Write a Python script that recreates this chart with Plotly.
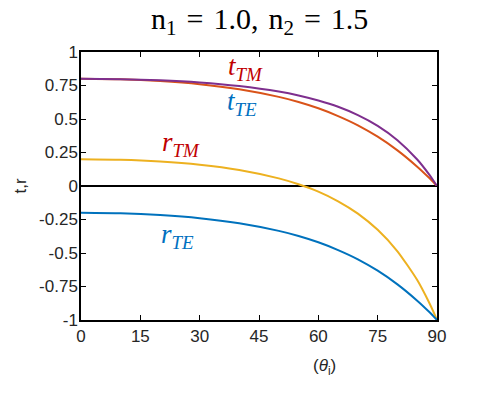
import plotly.graph_objects as go

theta = [0, 10, 20, 30, 40, 50, 55, 60, 65, 70, 75, 80, 85, 88, 89, 90]
t_tm = [0.800, 0.797, 0.789, 0.773, 0.746, 0.705, 0.676, 0.638, 0.591, 0.529, 0.449, 0.342, 0.198, 0.087, 0.045, 0.0]
t_te = [0.800, 0.796, 0.783, 0.760, 0.722, 0.665, 0.627, 0.580, 0.522, 0.453, 0.368, 0.266, 0.144, 0.061, 0.031, 0.0]
r_tm = [0.200, 0.196, 0.183, 0.159, 0.120, 0.057, 0.013, -0.042, -0.114, -0.206, -0.327, -0.487, -0.702, -0.869, -0.932, -1.0]
r_te = [-0.200, -0.204, -0.217, -0.240, -0.278, -0.335, -0.373, -0.420, -0.478, -0.547, -0.632, -0.734, -0.856, -0.939, -0.969, -1.0]

x_ticks = [0, 15, 30, 45, 60, 75, 90]
y_ticks = [-1, -0.75, -0.5, -0.25, 0, 0.25, 0.5, 0.75, 1]
y_labels = ["-1", "-0.75", "-0.5", "-0.25", "0", "0.25", "0.5", "0.75", "1"]

series = [
    ("t_TE", t_te, "#D95319"),
    ("t_TM", t_tm, "#7E2F8E"),
    ("r_TM", r_tm, "#EDB120"),
    ("r_TE", r_te, "#0072BD"),
]

fig = go.Figure()
for name, ys, col in series:
    fig.add_trace(go.Scatter(x=theta, y=ys, mode="lines", name=name,
                             line=dict(color=col, width=2, shape="spline", smoothing=0.6)))

sans = "Liberation Sans, Arial"
tickfont = dict(family=sans, size=17, color="#262626")
fig.update_xaxes(range=[0, 90], tickvals=x_ticks, ticks="inside", ticklen=5, tickwidth=1.2,
                 tickcolor="black", showline=True, linecolor="black", linewidth=1.5,
                 mirror="ticks", showgrid=False, zeroline=False, tickfont=tickfont, automargin=False)
fig.update_yaxes(range=[-1, 1], tickvals=y_ticks, ticktext=y_labels, ticks="inside", ticklen=5,
                 tickwidth=1.2, tickcolor="black", showline=True, linecolor="black", linewidth=1.5,
                 mirror="ticks", showgrid=False, zeroline=True, zerolinecolor="black", zerolinewidth=2,
                 tickfont=tickfont, automargin=False, ticklabelstandoff=-2)

serif = "Liberation Serif, DejaVu Serif, serif"
red = "#C00000"
blue = "#0070C0"
sp = "\u2004"
annots = [
    dict(x=0.5, y=1, xref="paper", yref="paper", yshift=10, yanchor="bottom",
         text=f"n<sub>1</sub>{sp}={sp}1.0,{sp}n<sub>2</sub>{sp}={sp}1.5",
         font=dict(family=serif, size=30, color="black")),
    dict(x=41.5, y=0.88, text="<i>t</i><sub><i>TM</i></sub>", font=dict(family=serif, size=27, color=red)),
    dict(x=40.8, y=0.62, text="<i>t</i><sub><i>TE</i></sub>", font=dict(family=serif, size=27, color=blue)),
    dict(x=25.3, y=0.31, text="<i>r</i><sub><i>TM</i></sub>", font=dict(family=serif, size=27, color=red)),
    dict(x=24.5, y=-0.37, text="<i>r</i><sub><i>TE</i></sub>", font=dict(family=serif, size=27, color=blue)),
    dict(x=61.5, y=0, xref="x", yref="paper", yshift=-34, yanchor="top",
         text="(<i>θ</i><sub>i</sub>)", font=dict(family=sans, size=17, color="#262626")),
    dict(x=0, y=0, xref="paper", yref="y", xshift=-73, textangle=-90,
         text="t,r", font=dict(family=sans, size=17, color="#262626")),
]
for a in annots:
    a.setdefault("xref", "x")
    a.setdefault("yref", "y")
    a["showarrow"] = False
    fig.add_annotation(**a)

fig.update_layout(width=484, height=399, margin=dict(l=81, r=47, t=52, b=79),
                  paper_bgcolor="white", plot_bgcolor="white", showlegend=False)

fig.write_html("out.html", config={"displayModeBar": False},
               post_script="document.body.style.margin='0';")
